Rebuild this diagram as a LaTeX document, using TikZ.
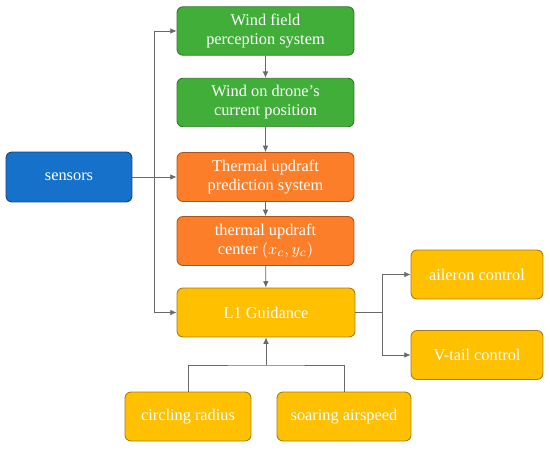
\documentclass[tikz,border=0pt]{standalone}
\usepackage{fontspec}
\setmainfont{Liberation Serif}
\usepackage{xcolor}
\usetikzlibrary{arrows.meta,positioning}

\definecolor{windgreen}{RGB}{66,174,58}
\definecolor{windedge}{RGB}{48,120,40}
\definecolor{thermorange}{RGB}{253,126,40}
\definecolor{thermedge}{RGB}{175,85,25}
\definecolor{sensblue}{RGB}{22,113,202}
\definecolor{sensedge}{RGB}{20,70,125}
\definecolor{ctrlyellow}{RGB}{255,192,0}
\definecolor{ctrledge}{RGB}{165,125,25}
\definecolor{wire}{RGB}{105,105,105}

\begin{document}
\begin{tikzpicture}[x=0.02cm,y=-0.02cm,
    box/.style={draw,rounded corners=0.12cm,line width=0.5pt,text=white,align=center,
        inner sep=0pt,font=\fontsize{9.3}{10.8}\selectfont},
    greenbox/.style={box,fill=windgreen,draw=windedge,minimum width=3.54cm,minimum height=0.97cm},
    orangebox/.style={box,fill=thermorange,draw=thermedge,minimum width=3.54cm,minimum height=0.98cm},
    bluebox/.style={box,fill=sensblue,draw=sensedge,minimum width=2.52cm,minimum height=1cm},
    yellowbox/.style={box,fill=ctrlyellow,draw=ctrledge,minimum height=0.98cm},
    line/.style={draw=wire,line width=0.45pt},
    arr/.style={line,-{Latex[length=3.6pt,width=3.2pt]}}]
    \useasboundingbox (0,0) rectangle (550,449);
    % left and middle column
    \node[bluebox] (sensors) at (69,177) {sensors};
    \node[greenbox] (wind) at (265.5,31) {Wind field\\perception system};
    \node[greenbox] (windpos) at (265.5,102.5) {Wind on drone’s\\current position};
    \node[orangebox] (thermal) at (265.5,177) {Thermal updraft\\prediction system};
    \node[orangebox] (center) at (265.5,241) {thermal updraft\\center $(x_c,y_c)$};
    \node[yellowbox,minimum width=3.56cm] (guidance) at (266,312.5) {L1 Guidance};
    % outputs and parameters
    \node[yellowbox,minimum width=2.64cm] (aileron) at (477,274.5) {aileron control};
    \node[yellowbox,minimum width=2.64cm] (vtail) at (477,355) {V-tail control};
    \node[yellowbox,minimum width=2.52cm] (radius) at (188,416.5) {circling radius};
    \node[yellowbox,minimum width=2.68cm] (airspeed) at (344,416.5) {soaring airspeed};
    \coordinate (bus) at (154,177);
    \coordinate (split) at (382,312.5);
    \coordinate (join) at (266,365);
    % connectors
    \draw[arr] (sensors.east) -- (thermal.west);
    \draw[arr] (bus) |- (wind.west);
    \draw[arr] (bus) |- (guidance.west);
    \draw[arr] (wind) -- (windpos);
    \draw[arr] (windpos) -- (thermal);
    \draw[arr] (thermal) -- (center);
    \draw[arr] (center) -- (guidance);
    \draw[line] (guidance.east) -- (split);
    \draw[arr] (split) |- (aileron.west);
    \draw[arr] (split) |- (vtail.west);
    \draw[line] (radius.north) |- (join) -| (airspeed.north);
    \draw[arr] (join) -- (guidance.south);
\end{tikzpicture}
\end{document}
